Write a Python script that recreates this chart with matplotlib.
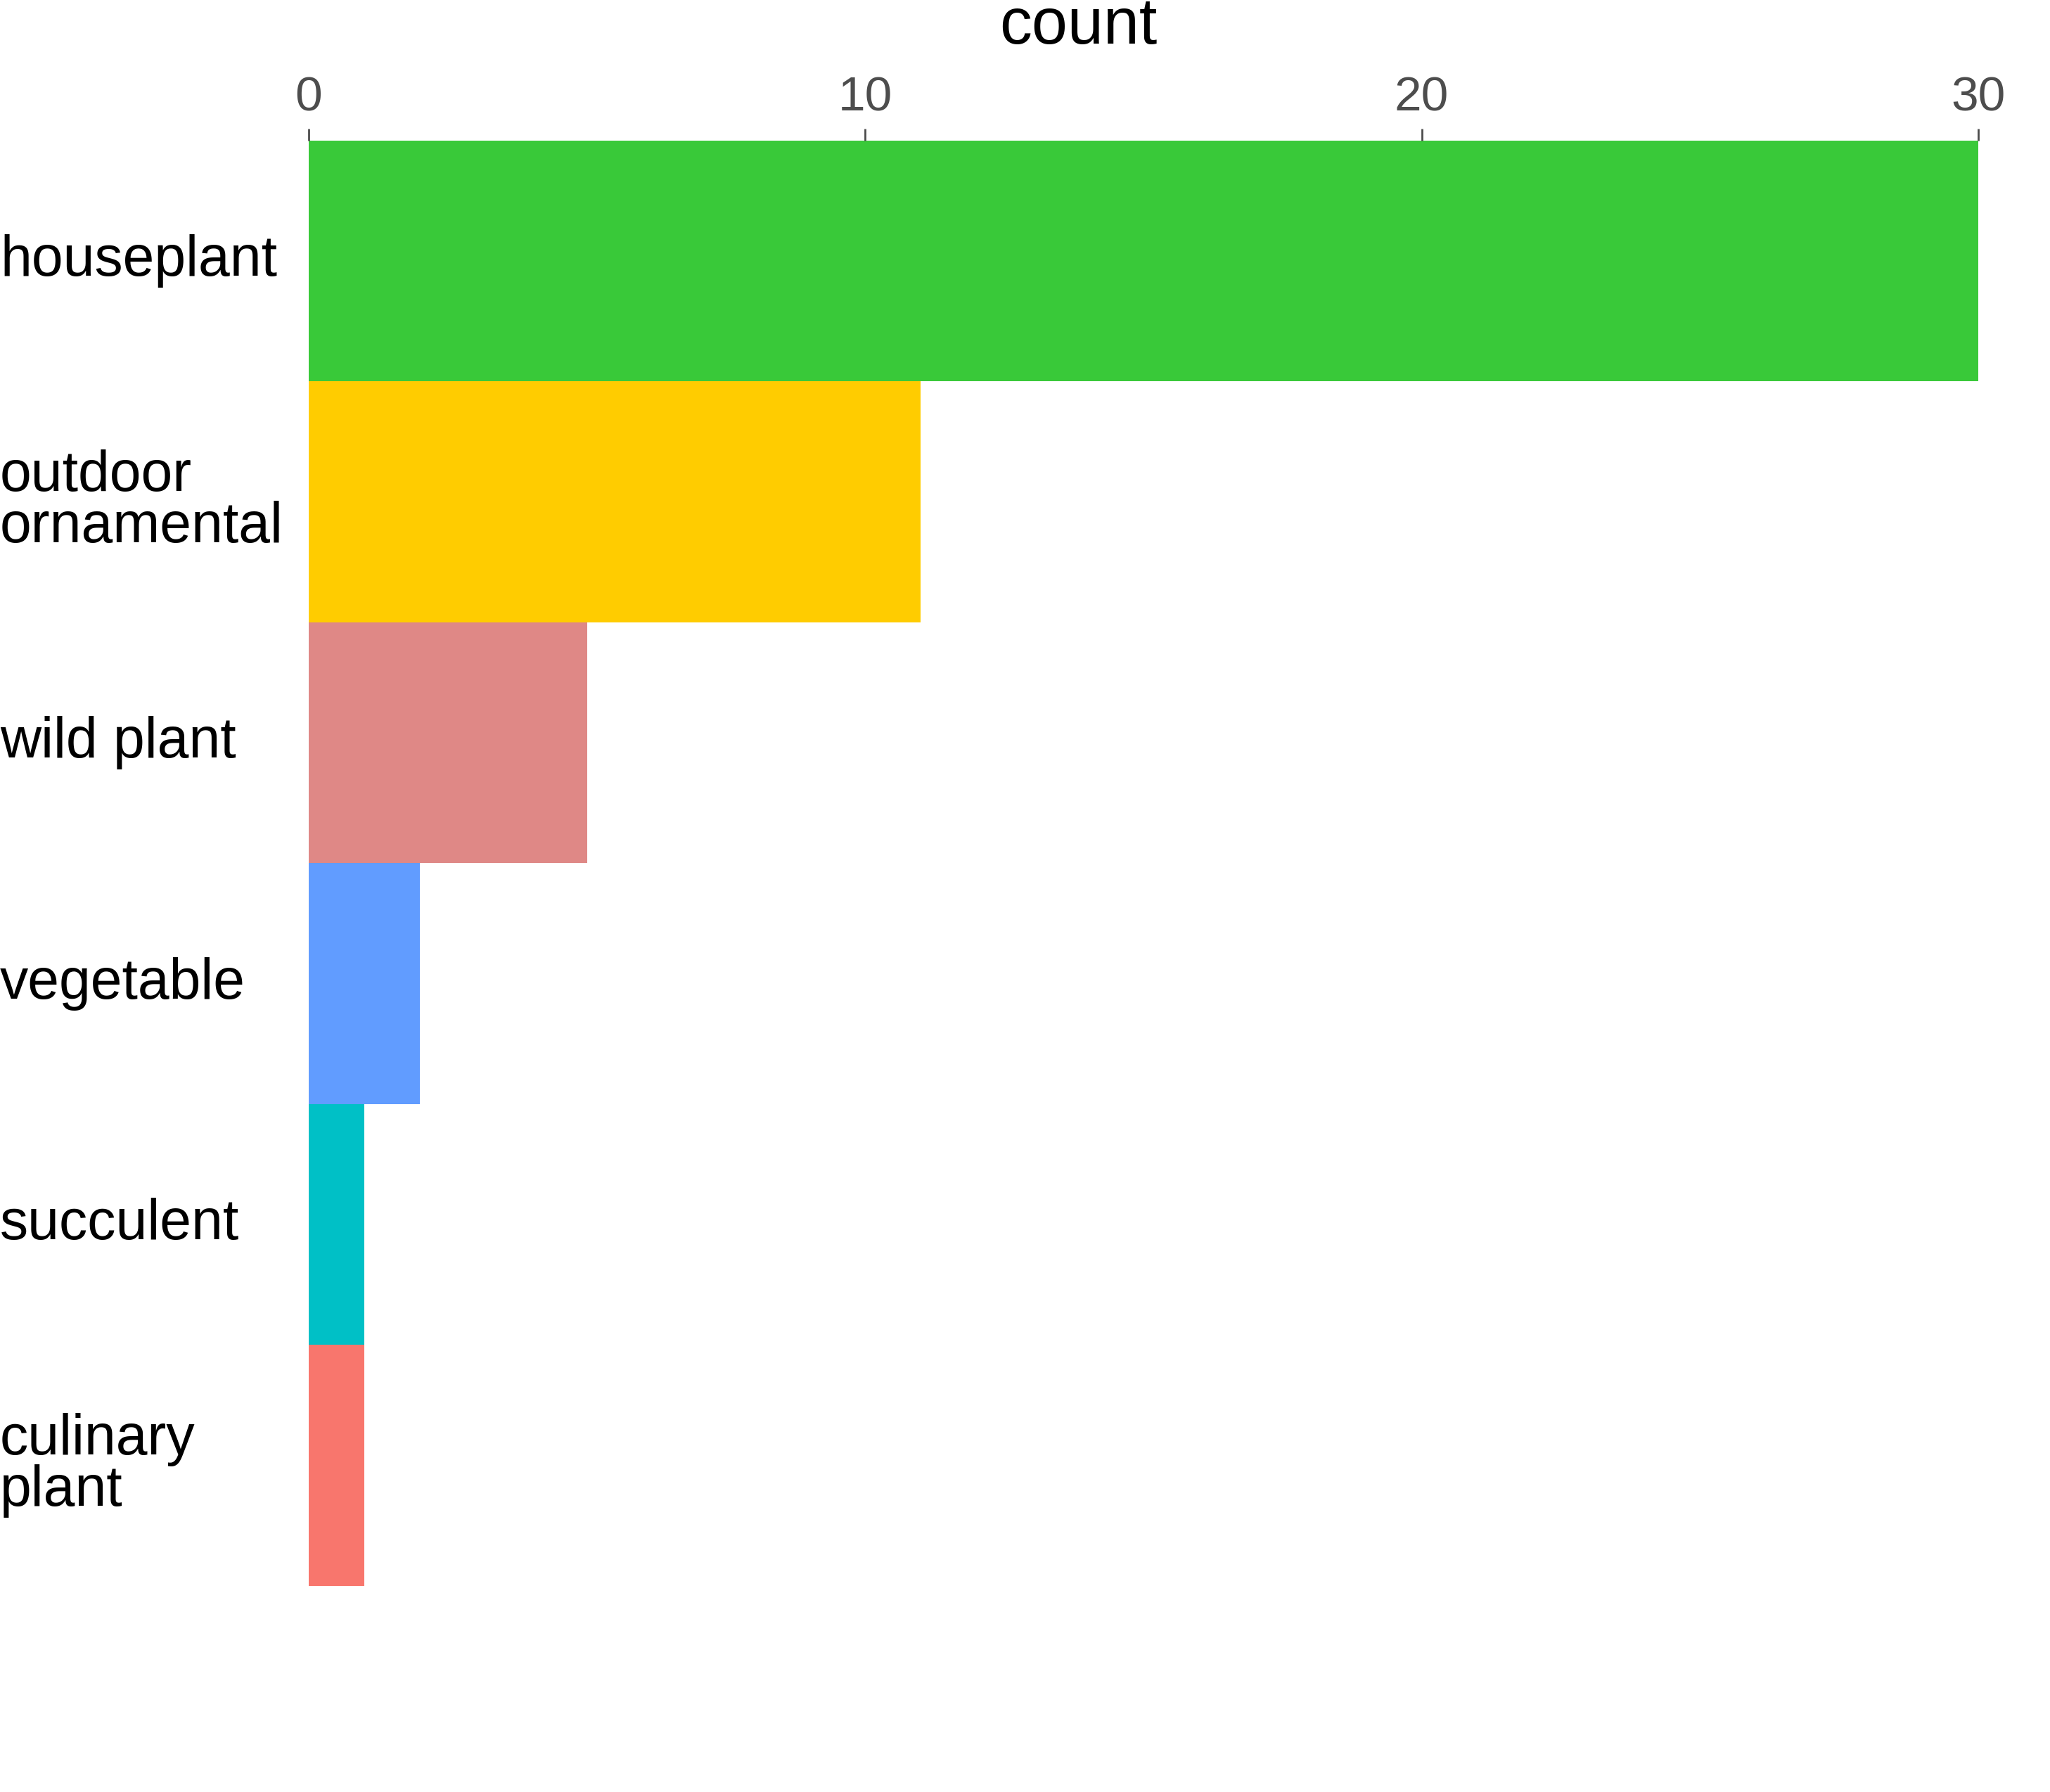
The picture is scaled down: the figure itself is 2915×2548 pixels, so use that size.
import matplotlib
matplotlib.use("Agg")
import matplotlib.pyplot as plt
from matplotlib.transforms import blended_transform_factory

categories = ["houseplant", "outdoor\nornamental", "wild plant", "vegetable", "succulent", "culinary\nplant"]
counts = [30, 11, 5, 2, 1, 1]
colors = ["#39C939", "#FFCC00", "#DF8886", "#619CFF", "#00C0C6", "#F8766D"]
ticks = [0, 10, 20, 30]

plt.rcParams['font.family'] = ['Liberation Sans', 'DejaVu Sans']
fig = plt.figure(figsize=(29.15, 25.48), dpi=100)
ax = fig.add_axes([0.1506, 0.115, 0.8144, 0.8066])
ypos = list(range(len(categories)))
ax.barh(ypos, counts, height=1.0, color=colors, align='center')
ax.set_ylim(len(categories) - 0.5, -0.5)
ax.set_xlim(0, 30)
ax.xaxis.tick_top()
ax.set_xticks(ticks)
ax.tick_params(axis='x', labelsize=50, colors='#4D4D4D', length=12, width=2, pad=8)
ax.set_yticks([])
for s in ax.spines.values():
    s.set_visible(False)
tr = blended_transform_factory(fig.transFigure, ax.transData)
for y, c in zip(ypos, categories):
    fig.text(0.0, y, c, transform=tr, ha='left', va='center', fontsize=58, color='black', linespacing=0.95)
fig.text(0.526, 0.985, "count", ha='center', va='center', fontsize=66, color='black')
fig.savefig("out.png", dpi=100)
